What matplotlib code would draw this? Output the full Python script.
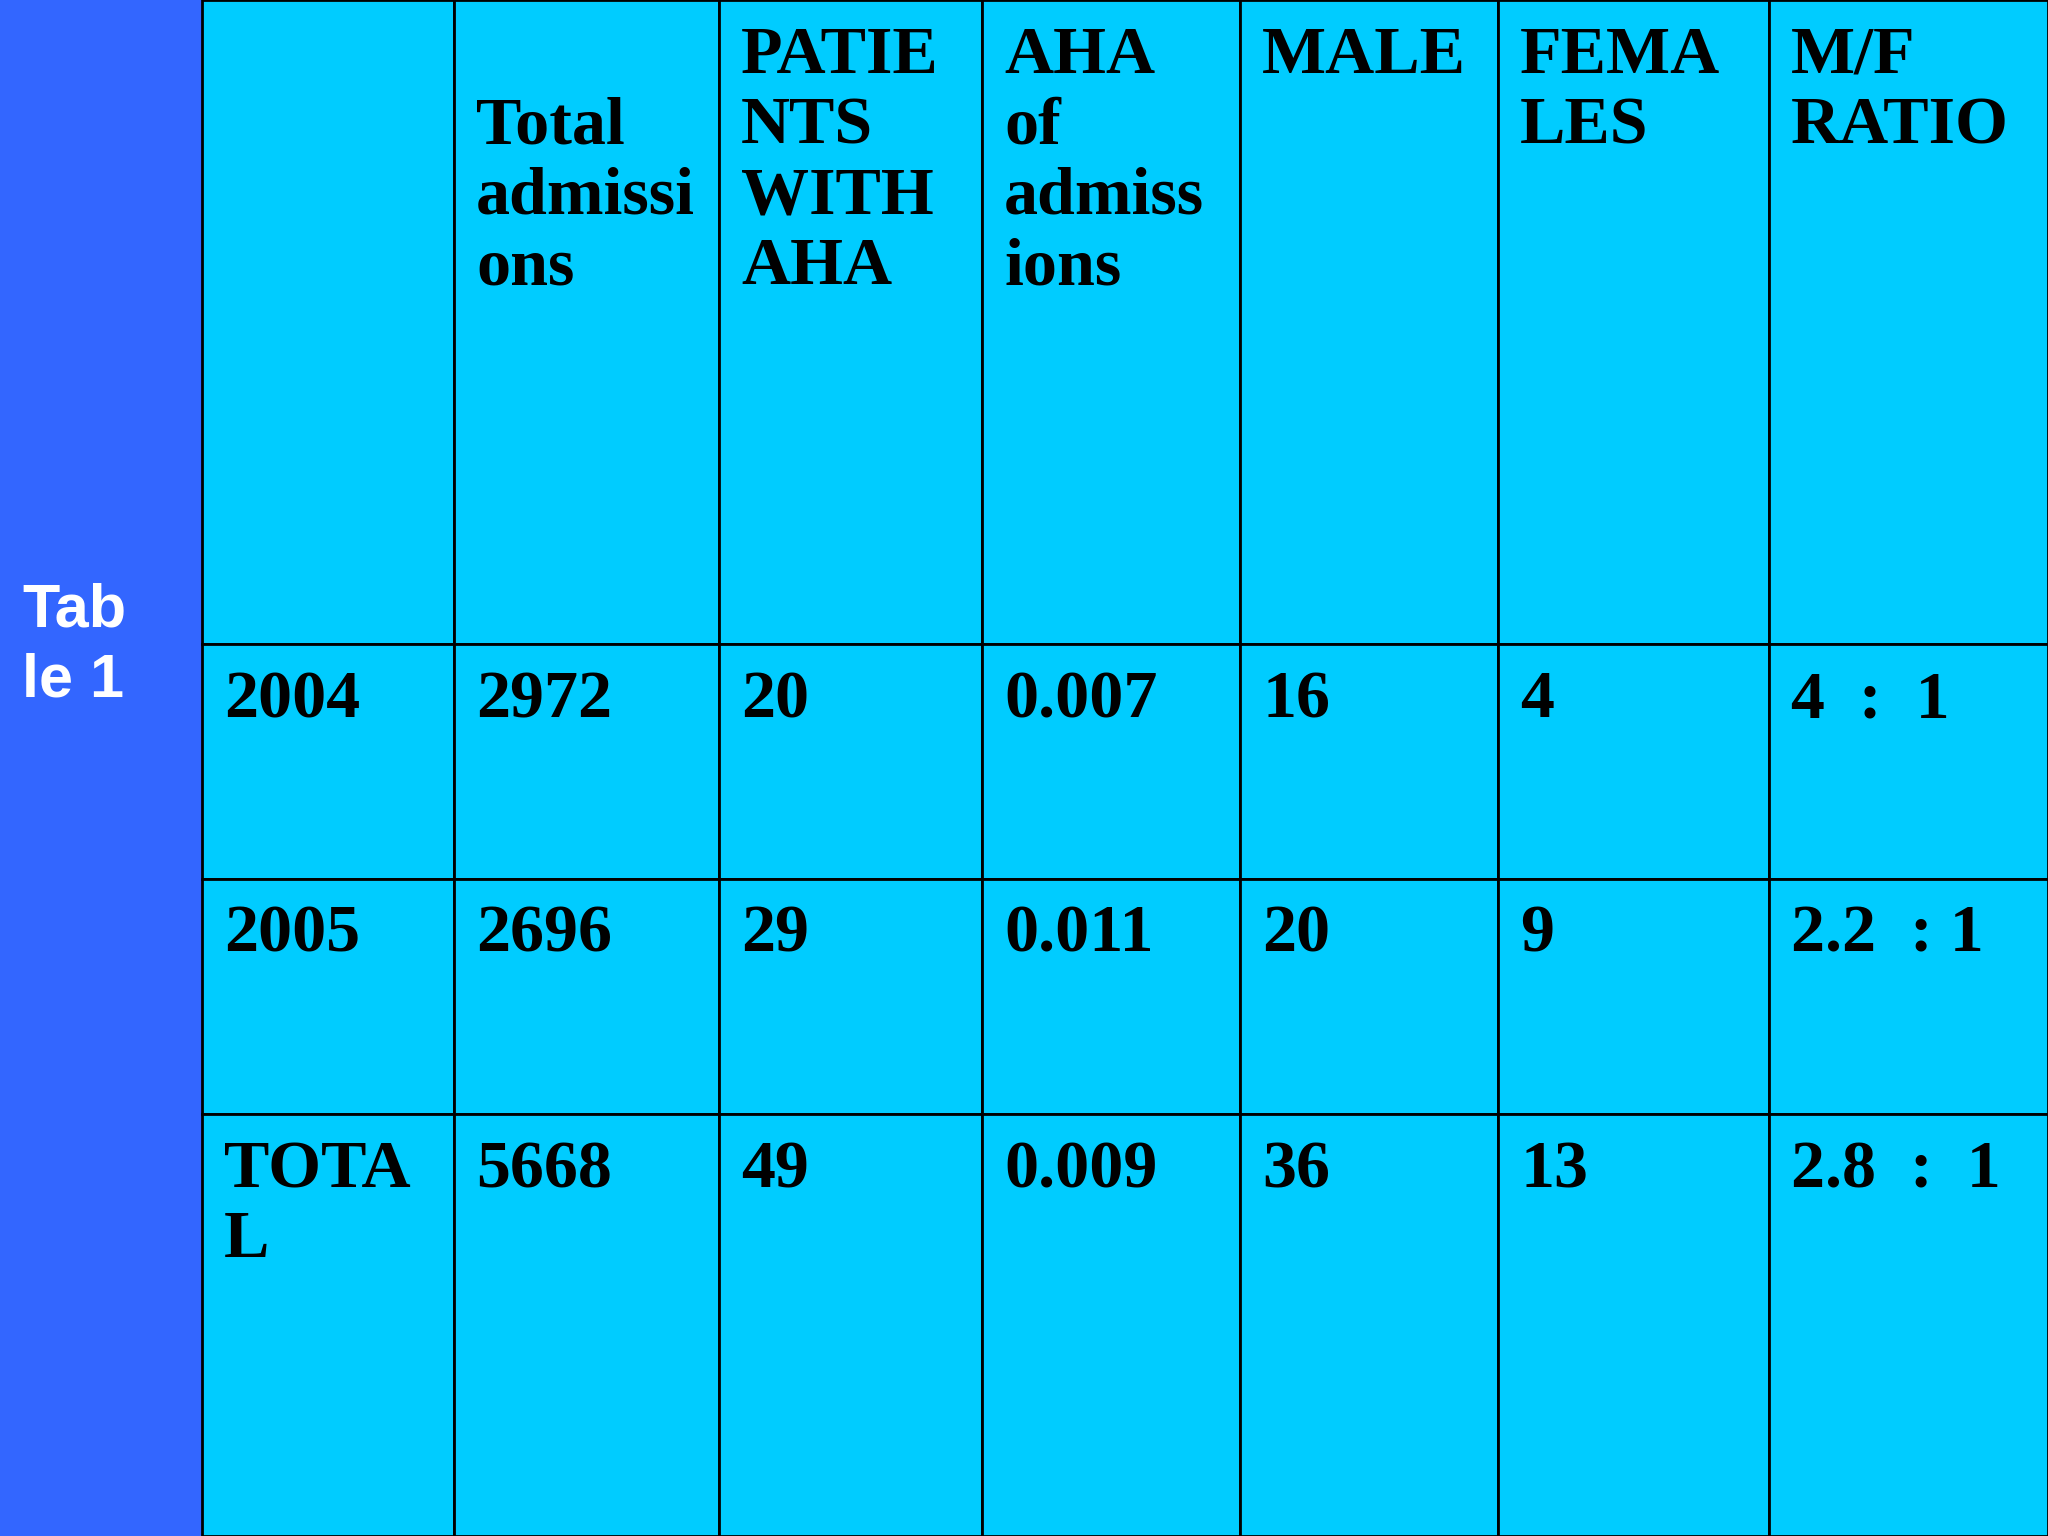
import matplotlib
matplotlib.use("Agg")
import matplotlib.pyplot as plt
from matplotlib.patches import Rectangle

headers = ["", "\nTotal\nadmissi\nons", "PATIE\nNTS\nWITH\nAHA", "AHA\nof\nadmiss\nions",
           "MALE", "FEMA\nLES", "M/F\nRATIO"]
years = ["2004", "2005", "TOTA\nL"]
total_adm = ["2972", "2696", "5668"]
patients_aha = ["20", "29", "49"]
aha_frac = ["0.007", "0.011", "0.009"]
males = ["16", "20", "36"]
females = ["4", "9", "13"]
ratio = ["4  :  1", "2.2  : 1", "2.8  :  1"]

col_edges = [202, 454, 719, 982, 1240, 1498, 1769, 2048]
row_edges = [0, 644, 879, 1114, 1536]

fig = plt.figure(figsize=(20.48, 15.36), dpi=100)
fig.patch.set_facecolor("#3366FF")
ax = fig.add_axes([0, 0, 1, 1])
ax.set_xlim(0, 2048); ax.set_ylim(1536, 0); ax.axis("off")

rows = [headers] + [list(r) for r in zip(years, total_adm, patients_aha, aha_frac, males, females, ratio)]
for i, row in enumerate(rows):
    for j, txt in enumerate(row):
        x0, x1 = col_edges[j], col_edges[j+1]
        y0, y1 = row_edges[i], row_edges[i+1]
        ax.add_patch(Rectangle((x0, y0), x1-x0, y1-y0, facecolor="#00CCFF",
                               edgecolor="black", linewidth=2))
        ax.text(x0 + 22, y0 + 26, txt, ha="left", va="top", family="Liberation Serif",
                fontweight="bold", fontsize=49, color="black", linespacing=1.2)

ax.text(22, 646, "Tab\nle 1", ha="left", va="center", family="Liberation Sans",
        fontweight="bold", fontsize=44, color="white", linespacing=1.28)

fig.savefig("out.png", dpi=100, facecolor=fig.get_facecolor())
